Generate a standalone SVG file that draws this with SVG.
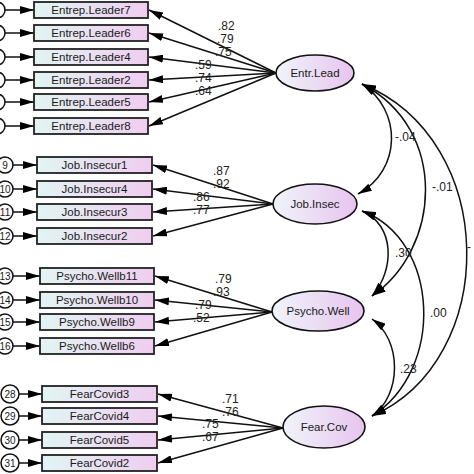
<svg xmlns="http://www.w3.org/2000/svg" width="474" height="474" viewBox="0 0 474 474">
<defs>
<linearGradient id="gBox" x1="0" y1="0" x2="1" y2="0">
<stop offset="0" stop-color="#e2f5f3"/>
<stop offset="1" stop-color="#efcdf0"/>
</linearGradient>
<linearGradient id="gEll" x1="0" y1="0" x2="1" y2="0">
<stop offset="0" stop-color="#f0f4fb"/>
<stop offset="1" stop-color="#e7c4ee"/>
</linearGradient>
<marker id="ah" viewBox="0 0 14 8" refX="14" refY="4" markerWidth="14" markerHeight="8" markerUnits="userSpaceOnUse" orient="auto-start-reverse">
<path d="M0,0 L14,4 L0,8 Z" fill="#000"/>
</marker>
</defs>
<style>
.box{fill:url(#gBox);stroke:#222;stroke-width:1.8}
.ell{fill:url(#gEll);stroke:#111;stroke-width:1.6}
.err{fill:#fff;stroke:#111;stroke-width:1.5}
.lbl{font-family:"Liberation Sans",Arial,sans-serif;font-size:11.5px;fill:#1a1a1a;text-anchor:middle}
.num{font-family:"Liberation Sans",Arial,sans-serif;font-size:12px;fill:#222}
.ln{fill:none;stroke:#111;stroke-width:1.5;marker-end:url(#ah)}
.cv{fill:none;stroke:#111;stroke-width:1.5;marker-start:url(#ah);marker-end:url(#ah)}
</style>
<rect width="474" height="474" fill="#fff"/>

<g id="connectors">
<path class="ln" d="M5,10 H34"/>
<path class="ln" d="M5,33 H34"/>
<path class="ln" d="M5,57 H34"/>
<path class="ln" d="M5,80 H34"/>
<path class="ln" d="M5,102 H34"/>
<path class="ln" d="M5,126 H34"/>
<path class="ln" d="M13,165 H37"/>
<path class="ln" d="M13,189 H37"/>
<path class="ln" d="M13,212 H37"/>
<path class="ln" d="M13,236 H37"/>
<path class="ln" d="M13,276 H40"/>
<path class="ln" d="M13,300 H40"/>
<path class="ln" d="M13,322 H40"/>
<path class="ln" d="M13,346 H40"/>
<path class="ln" d="M19,394 H42"/>
<path class="ln" d="M19,416 H42"/>
<path class="ln" d="M19,440 H42"/>
<path class="ln" d="M19,463 H42"/>
<path class="ln" d="M276,73 L149,10"/>
<path class="ln" d="M276,73 L149,33"/>
<path class="ln" d="M276,73 L149,57"/>
<path class="ln" d="M276,73 L149,80"/>
<path class="ln" d="M276,73 L149,102"/>
<path class="ln" d="M276,73 L149,126"/>
<path class="ln" d="M273,204 L153,165"/>
<path class="ln" d="M273,204 L153,189"/>
<path class="ln" d="M273,204 L153,212"/>
<path class="ln" d="M273,204 L153,236"/>
<path class="ln" d="M272,312 L155,276"/>
<path class="ln" d="M272,312 L155,300"/>
<path class="ln" d="M272,312 L155,322"/>
<path class="ln" d="M272,312 L155,346"/>
<path class="ln" d="M283,428 L158,394"/>
<path class="ln" d="M283,428 L158,416"/>
<path class="ln" d="M283,428 L158,440"/>
<path class="ln" d="M283,428 L158,463"/>
<path class="cv" d="M362,84 C402,110 402,170 358,194"/>
<path class="cv" d="M362,84 C450,130 440,250 372,296"/>
<path class="cv" d="M362,84 C500,140 500,360 372,416"/>
<path class="cv" d="M362,211 C395,225 395,270 372,296"/>
<path class="cv" d="M362,211 C440,240 445,370 372,416"/>
<path class="cv" d="M372,319 C402,340 402,395 372,416"/>
</g>

<g id="errors">
<circle class="err" cx="-3" cy="10" r="8"/>
<circle class="err" cx="-3" cy="33" r="8"/>
<circle class="err" cx="-3" cy="57" r="8"/>
<circle class="err" cx="-3" cy="80" r="8"/>
<circle class="err" cx="-3" cy="102" r="8"/>
<circle class="err" cx="-3" cy="126" r="8"/>
<circle class="err" cx="5" cy="165" r="8"/>
<circle class="err" cx="5" cy="189" r="8"/>
<circle class="err" cx="5" cy="212" r="8"/>
<circle class="err" cx="5" cy="236" r="8"/>
<circle class="err" cx="5" cy="276" r="8"/>
<circle class="err" cx="5" cy="300" r="8"/>
<circle class="err" cx="5" cy="322" r="8"/>
<circle class="err" cx="5" cy="346" r="8"/>
<circle class="err" cx="10" cy="394" r="9"/>
<circle class="err" cx="10" cy="416" r="9"/>
<circle class="err" cx="10" cy="440" r="9"/>
<circle class="err" cx="10" cy="463" r="9"/>
<g class="lbl" style="font-size:10px">
<text x="5" y="168.5">9</text>
<text x="5" y="192.5">10</text>
<text x="5" y="215.5">11</text>
<text x="5" y="239.5">12</text>
<text x="5" y="279.5">13</text>
<text x="5" y="303.5">14</text>
<text x="5" y="325.5">15</text>
<text x="5" y="349.5">16</text>
<text x="10" y="397.5">28</text>
<text x="10" y="419.5">29</text>
<text x="10" y="443.5">30</text>
<text x="10" y="466.5">31</text>
</g>
</g>

<g id="n-leader7"><rect class="box" x="34" y="2" width="114" height="16"/><text class="lbl" x="91" y="14">Entrep.Leader7</text></g>
<g id="n-leader6"><rect class="box" x="34" y="25" width="114" height="16"/><text class="lbl" x="91" y="37">Entrep.Leader6</text></g>
<g id="n-leader4"><rect class="box" x="34" y="49" width="114" height="16"/><text class="lbl" x="91" y="61">Entrep.Leader4</text></g>
<g id="n-leader2"><rect class="box" x="34" y="72" width="114" height="16"/><text class="lbl" x="91" y="84">Entrep.Leader2</text></g>
<g id="n-leader5"><rect class="box" x="34" y="94" width="114" height="16"/><text class="lbl" x="91" y="106">Entrep.Leader5</text></g>
<g id="n-leader8"><rect class="box" x="34" y="118" width="114" height="16"/><text class="lbl" x="91" y="130">Entrep.Leader8</text></g>

<g id="n-jobinsecur1"><rect class="box" x="37" y="157" width="115" height="16"/><text class="lbl" x="94.5" y="169">Job.Insecur1</text></g>
<g id="n-jobinsecur4"><rect class="box" x="37" y="181" width="115" height="16"/><text class="lbl" x="94.5" y="193">Job.Insecur4</text></g>
<g id="n-jobinsecur3"><rect class="box" x="37" y="204" width="115" height="16"/><text class="lbl" x="94.5" y="216">Job.Insecur3</text></g>
<g id="n-jobinsecur2"><rect class="box" x="37" y="228" width="115" height="16"/><text class="lbl" x="94.5" y="240">Job.Insecur2</text></g>

<g id="n-psycho11"><rect class="box" x="40" y="268" width="114" height="16"/><text class="lbl" x="97" y="280">Psycho.Wellb11</text></g>
<g id="n-psycho10"><rect class="box" x="40" y="292" width="114" height="16"/><text class="lbl" x="97" y="304">Psycho.Wellb10</text></g>
<g id="n-psycho9"><rect class="box" x="40" y="314" width="114" height="16"/><text class="lbl" x="97" y="326">Psycho.Wellb9</text></g>
<g id="n-psycho6"><rect class="box" x="40" y="338" width="114" height="16"/><text class="lbl" x="97" y="350">Psycho.Wellb6</text></g>

<g id="n-fear3"><rect class="box" x="42" y="386" width="115" height="16"/><text class="lbl" x="99.5" y="398">FearCovid3</text></g>
<g id="n-fear4"><rect class="box" x="42" y="408" width="115" height="16"/><text class="lbl" x="99.5" y="420">FearCovid4</text></g>
<g id="n-fear5"><rect class="box" x="42" y="432" width="115" height="16"/><text class="lbl" x="99.5" y="444">FearCovid5</text></g>
<g id="n-fear2"><rect class="box" x="42" y="455" width="115" height="16"/><text class="lbl" x="99.5" y="467">FearCovid2</text></g>

<g id="n-entrlead"><ellipse class="ell" cx="315" cy="73" rx="39" ry="18"/><text class="lbl" x="315" y="77">Entr.Lead</text></g>
<g id="n-jobinsec"><ellipse class="ell" cx="315" cy="204" rx="42" ry="20"/><text class="lbl" x="315" y="208">Job.Insec</text></g>
<g id="n-psychowell"><ellipse class="ell" cx="318" cy="311" rx="46" ry="20"/><text class="lbl" x="318" y="315">Psycho.Well</text></g>
<g id="n-fearcov"><ellipse class="ell" cx="324" cy="427" rx="41" ry="21"/><text class="lbl" x="324" y="431">Fear.Cov</text></g>

<g id="labels" class="num">
<text x="218" y="30">.82</text>
<text x="217" y="43">.79</text>
<text x="215" y="56">.75</text>
<text x="195" y="69">.59</text>
<text x="195" y="82">.74</text>
<text x="195" y="95">.64</text>
<text x="213" y="175">.87</text>
<text x="213" y="188">.92</text>
<text x="193" y="201">.86</text>
<text x="193" y="214">.77</text>
<text x="215" y="283">.79</text>
<text x="213" y="296">.93</text>
<text x="195" y="309">.79</text>
<text x="193" y="322">.52</text>
<text x="222" y="403">.71</text>
<text x="222" y="416">.76</text>
<text x="202" y="428">.75</text>
<text x="202" y="441">.67</text>
<text x="395" y="141">-.04</text>
<text x="432" y="191">-.01</text>
<text x="467" y="251">-</text>
<text x="395" y="257">.30</text>
<text x="430" y="317">.00</text>
<text x="400" y="373">.23</text>
</g>
</svg>
